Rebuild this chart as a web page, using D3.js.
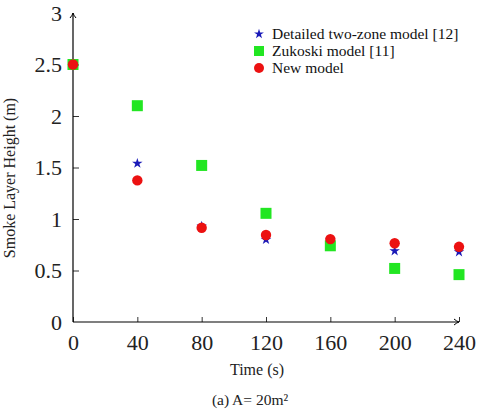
<!DOCTYPE html>
<html>
<head>
<meta charset="utf-8">
<script src="https://cdn.jsdelivr.net/npm/d3@7"></script>
<style>
  body { margin: 0; background: #fff; }
</style>
</head>
<body>
<svg id="chart"></svg>
<script>
// data
const times = [0, 40, 80, 120, 160, 200, 240];
const twoZone = [2.5, 1.54, 0.93, 0.80, 0.80, 0.69, 0.68];
const zukoski = [2.5, 2.10, 1.52, 1.055, 0.74, 0.52, 0.46];
const newModel = [2.5, 1.375, 0.915, 0.845, 0.805, 0.765, 0.73];
const yTicks = [0, 0.5, 1, 1.5, 2, 2.5, 3];
const seriesNames = ['Detailed two-zone model [12]', 'Zukoski model [11]', 'New model'];

const SERIF = '"Liberation Serif", "Times New Roman", "DejaVu Serif", serif';
const W = 480, H = 413;
const svg = d3.select('#chart').attr('width', W).attr('height', H)
  .style('font-family', SERIF);

const x = d3.scaleLinear().domain([0, 240]).range([73, 459]);
const y = d3.scaleLinear().domain([0, 3]).range([322, 13]);

// arrow head
svg.append('defs').append('marker')
  .attr('id', 'arr')
  .attr('viewBox', '-6 -4 8 8')
  .attr('markerWidth', 8).attr('markerHeight', 8)
  .attr('markerUnits', 'userSpaceOnUse')
  .attr('orient', 'auto')
  .append('path')
  .attr('d', 'M-5,-3 Q-2,-0.5 0,0 Q-2,0.5 -5,3')
  .attr('fill', 'none').attr('stroke', '#000').attr('stroke-width', 1);

// x axis
const xAxis = svg.append('g')
  .attr('transform', `translate(0,${y(0)})`)
  .call(d3.axisBottom(x).tickValues(times).tickSize(-5).tickSizeOuter(0).tickPadding(12));
xAxis.attr('font-family', null);
xAxis.select('.domain').remove();
xAxis.selectAll('text').attr('fill', '#222')
  .style('font-family', SERIF).style('font-size', '22px');
xAxis.selectAll('line').attr('stroke', '#333');

// y axis
const yAxis = svg.append('g')
  .attr('transform', `translate(${x(0)},0)`)
  .call(d3.axisLeft(y).tickValues(yTicks).tickSize(-6).tickSizeOuter(0).tickPadding(11)
    .tickFormat(d3.format('')));
yAxis.attr('font-family', null);
yAxis.select('.domain').remove();
yAxis.selectAll('text').attr('fill', '#222')
  .style('font-family', SERIF).style('font-size', '22px');
yAxis.selectAll('line').attr('stroke', '#333');
yAxis.selectAll('.tick').filter(d => d === 0 || d === 3).select('line').remove();

// axis lines with arrows
svg.append('line')
  .attr('x1', x(0)).attr('y1', y(0)).attr('x2', x(240)).attr('y2', y(0))
  .attr('stroke', '#000').attr('stroke-width', 1.2).attr('marker-end', 'url(#arr)');
svg.append('line')
  .attr('x1', x(0)).attr('y1', y(0)).attr('x2', x(0)).attr('y2', y(3))
  .attr('stroke', '#000').attr('stroke-width', 1.2).attr('marker-end', 'url(#arr)');

// points
const pts = (vals) => times.map((t, i) => ({ t, v: vals[i] }));

svg.append('g').selectAll('path')
  .data(pts(twoZone))
  .join('path')
  .attr('d', d3.symbol().type(d3.symbolStar).size(34))
  .attr('transform', d => `translate(${x(d.t)},${y(d.v)})`)
  .attr('fill', '#1a1ab8');

svg.append('g').selectAll('rect')
  .data(pts(zukoski))
  .join('rect')
  .attr('x', d => x(d.t) - 5.5).attr('y', d => y(d.v) - 5.5)
  .attr('width', 11).attr('height', 11)
  .attr('fill', '#22e622');

svg.append('g').selectAll('circle')
  .data(pts(newModel))
  .join('circle')
  .attr('cx', d => x(d.t)).attr('cy', d => y(d.v))
  .attr('r', 5.2)
  .attr('fill', '#ec1111');

// legend
const legend = svg.append('g').attr('transform', 'translate(259,34)');
const rows = legend.selectAll('g')
  .data(seriesNames)
  .join('g')
  .attr('transform', (d, i) => `translate(0,${i * 17})`);
rows.filter((d, i) => i === 0).append('path')
  .attr('d', d3.symbol().type(d3.symbolStar).size(30))
  .attr('fill', '#1a1ab8');
rows.filter((d, i) => i === 1).append('rect')
  .attr('x', -5).attr('y', -5).attr('width', 10).attr('height', 10)
  .attr('fill', '#22e622');
rows.filter((d, i) => i === 2).append('circle')
  .attr('r', 5).attr('fill', '#ec1111');
rows.append('text')
  .attr('x', 13).attr('dy', '0.35em')
  .style('font-size', '15.5px').attr('fill', '#111')
  .text(d => d);

// axis titles
svg.append('text')
  .attr('x', 257).attr('y', 375)
  .attr('text-anchor', 'middle').style('font-size', '16px').attr('fill', '#222')
  .text('Time (s)');
svg.append('text')
  .attr('transform', 'translate(15,178) rotate(-90)')
  .attr('text-anchor', 'middle').style('font-size', '16px').attr('fill', '#222')
  .text('Smoke Layer Height (m)');
svg.append('text')
  .attr('x', 250).attr('y', 405)
  .attr('text-anchor', 'middle').style('font-size', '15.5px').attr('fill', '#222')
  .text('(a) A= 20m²');
</script>
</body>
</html>
